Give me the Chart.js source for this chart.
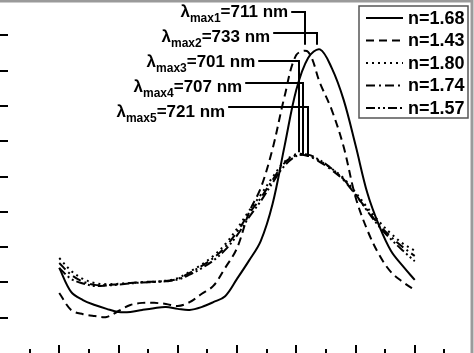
<!DOCTYPE html>
<html>
<head>
<meta charset="utf-8">
<script src="https://cdn.jsdelivr.net/npm/chart.js@4.4.0/dist/chart.umd.min.js"></script>
<style>
  html, body { margin: 0; padding: 0; background: #fff; }
  #wrap { width: 474px; height: 353px; }
</style>
</head>
<body>
<div id="wrap"><canvas id="spectra" width="474" height="353"></canvas></div>
<script>
  // wavelength grid (nm)
  const wavelengths = [500, 510, 520, 530, 540, 550, 560, 570, 580, 590, 600, 610, 620, 630, 640, 650,
    660, 670, 680, 690, 700, 710, 720, 730, 740, 750, 760, 770, 780, 790, 800]

  // spectra (arb. units)
  const n168 = [2.41, 1.73, 1.50, 1.36, 1.25, 1.16, 1.16, 1.22, 1.27, 1.30, 1.25, 1.22, 1.30, 1.44, 1.61, 2.10,
    2.61, 3.17, 4.22, 5.84, 7.45, 8.36, 8.60, 8.07, 7.17, 5.89, 4.53, 3.60, 2.89, 2.46, 2.07]
  const n143 = [1.70, 1.22, 1.10, 1.05, 1.02, 1.19, 1.36, 1.42, 1.42, 1.39, 1.33, 1.44, 1.67, 1.90, 2.41, 2.97,
    3.97, 4.67, 5.78, 7.25, 8.44, 8.53, 7.65, 6.88, 5.84, 4.42, 3.48, 2.78, 2.29, 2.01, 1.78]
  const n180 = [2.69, 2.33, 2.10, 1.98, 1.95, 1.96, 1.98, 2.00, 2.02, 2.05, 2.12, 2.30, 2.50, 2.75, 3.08, 3.52,
    4.02, 4.48, 4.98, 5.42, 5.63, 5.60, 5.44, 5.22, 4.95, 4.55, 4.12, 3.72, 3.38, 3.10, 2.90]
  const n174 = [2.55, 2.22, 2.02, 1.93, 1.92, 1.95, 1.98, 2.01, 2.02, 2.04, 2.10, 2.27, 2.46, 2.69, 3.00, 3.43,
    3.94, 4.39, 4.90, 5.38, 5.60, 5.58, 5.41, 5.18, 4.90, 4.48, 4.05, 3.63, 3.29, 3.00, 2.75]
  const n157 = [2.41, 2.10, 1.97, 1.90, 1.91, 1.94, 1.97, 2.00, 2.01, 2.03, 2.08, 2.22, 2.40, 2.62, 2.92, 3.33,
    3.84, 4.30, 4.82, 5.30, 5.58, 5.62, 5.46, 5.22, 4.92, 4.50, 4.02, 3.58, 3.22, 2.90, 2.60]

  const seriesLabels = ['n=1.68', 'n=1.43', 'n=1.80', 'n=1.74', 'n=1.57']
  const seriesDashes = [[], [8, 5], [2, 4], [9, 4, 2, 4], [9, 3, 2, 3, 2, 3]]

  const yTicks = [1, 2, 3, 4, 5, 6, 7, 8, 9]
  const xMajorTicks = [500, 550, 600, 650, 700, 750, 800]
  const xMinorTicks = [475, 525, 575, 625, 675, 725, 775, 825]

  // peak labels: text right end / baseline, leader level, leader tip (data units)
  const peakSubs = ['max1', 'max2', 'max3', 'max4', 'max5']
  const peakTexts = ['=711 nm', '=733 nm', '=701 nm', '=707 nm', '=721 nm']
  const peakTextX = [693.2, 678.0, 665.4, 654.4, 640.0]
  const peakTextY = [9.52, 8.81, 8.10, 7.39, 6.69]
  const peakLineY = [9.66, 9.07, 8.27, 7.65, 6.97]
  const peakTipX = [707.6, 717.7, 702.5, 705.9, 710.1]
  const peakTipY = [8.73, 8.73, 5.69, 5.61, 5.55]

  const toPoints = vals => vals.map((v, i) => ({ x: wavelengths[i], y: v }))
  const allSeries = [n168, n143, n180, n174, n157]

  const datasets = allSeries.map((vals, i) => ({
    label: seriesLabels[i],
    data: toPoints(vals),
    borderColor: '#000',
    borderWidth: 2,
    borderDash: seriesDashes[i],
    pointRadius: 0,
    tension: 0.35,
    fill: false
  }))

  const frame = {
    id: 'frame',
    afterDatasetsDraw(chart) {
      const { ctx, chartArea: a, scales: { x, y } } = chart
      ctx.save()
      ctx.setLineDash([])
      ctx.strokeStyle = '#000'
      ctx.lineWidth = 2
      ctx.beginPath()
      yTicks.forEach(v => {
        const py = Math.round(y.getPixelForValue(v))
        ctx.moveTo(a.left, py)
        ctx.lineTo(a.left + 8, py)
      })
      xMajorTicks.forEach(v => {
        const px = Math.round(x.getPixelForValue(v))
        ctx.moveTo(px, a.bottom)
        ctx.lineTo(px, a.bottom - 8)
      })
      xMinorTicks.forEach(v => {
        const px = Math.round(x.getPixelForValue(v))
        ctx.moveTo(px, a.bottom)
        ctx.lineTo(px, a.bottom - 4)
      })
      ctx.stroke()

      // grey top and right edges of the frame
      ctx.strokeStyle = '#9a9a9a'
      ctx.lineWidth = 3
      ctx.beginPath()
      ctx.moveTo(a.left, a.top + 1)
      ctx.lineTo(a.right - 2, a.top + 1)
      ctx.lineTo(a.right - 2, a.bottom)
      ctx.stroke()

      // peak annotations
      ctx.fillStyle = '#000'
      ctx.strokeStyle = '#000'
      ctx.lineWidth = 2
      ctx.textAlign = 'right'
      ctx.textBaseline = 'alphabetic'
      peakTexts.forEach((txt, i) => {
        const tx = x.getPixelForValue(peakTextX[i])
        const ty = y.getPixelForValue(peakTextY[i])
        ctx.font = 'bold 17px "Liberation Sans", Arial, sans-serif'
        ctx.fillText(txt, tx, ty)
        const w = ctx.measureText(txt).width
        ctx.font = 'bold 12px "Liberation Sans", Arial, sans-serif'
        ctx.fillText(peakSubs[i], tx - w, ty + 5)
        const ws = ctx.measureText(peakSubs[i]).width
        ctx.font = 'bold 17px "Liberation Sans", Arial, sans-serif'
        ctx.fillText('λ', tx - w - ws, ty)

        const ly = Math.round(y.getPixelForValue(peakLineY[i]))
        const lx = Math.round(x.getPixelForValue(peakTipX[i]))
        ctx.beginPath()
        ctx.moveTo(tx + 3, ly)
        ctx.lineTo(lx, ly)
        ctx.lineTo(lx, y.getPixelForValue(peakTipY[i]))
        ctx.stroke()
      })

      // legend box
      const bx = 359, by = 6, bw = 109, bh = 112
      ctx.fillStyle = '#fff'
      ctx.fillRect(bx, by, bw, bh)
      ctx.strokeStyle = '#555'
      ctx.lineWidth = 1.5
      ctx.strokeRect(bx, by, bw, bh)
      ctx.textAlign = 'left'
      ctx.textBaseline = 'middle'
      ctx.font = 'bold 18px "Liberation Sans", Arial, sans-serif'
      chart.data.datasets.forEach((ds, i) => {
        const ry = by + 12 + i * 22.5
        ctx.strokeStyle = '#000'
        ctx.lineWidth = 2
        ctx.setLineDash(ds.borderDash)
        ctx.beginPath()
        ctx.moveTo(366, ry)
        ctx.lineTo(403, ry)
        ctx.stroke()
        ctx.setLineDash([])
        ctx.fillStyle = '#000'
        ctx.fillText(ds.label, 408, ry + 1)
      })
      ctx.restore()
    }
  }

  new Chart(document.getElementById('spectra'), {
    type: 'line',
    data: { datasets },
    options: {
      responsive: false,
      animation: false,
      layout: { padding: 0 },
      plugins: { legend: { display: false }, tooltip: { enabled: false } },
      scales: {
        x: { type: 'linear', min: 450, max: 850, display: false },
        y: { min: 0, max: 10, display: false }
      }
    },
    plugins: [frame]
  })
</script>
</body>
</html>
